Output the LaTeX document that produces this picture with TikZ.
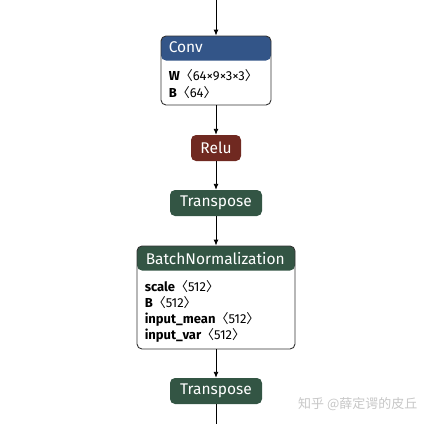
\documentclass[tikz,border=0pt]{standalone}
\usepackage{fontspec}
\setmainfont{Fira Sans}
\newfontfamily\cjkfont{Noto Sans CJK SC}
\usetikzlibrary{arrows.meta, positioning}

\definecolor{layerblue}{RGB}{51,85,136}
\definecolor{actred}{RGB}{112,41,33}
\definecolor{normgreen}{RGB}{51,85,68}

\newcommand\shp[1]{{\cjkfont 〈}#1{\cjkfont 〉}}

\begin{document}
\begin{tikzpicture}[
    x=1pt, y=-1pt,
    font=\fontsize{15.5}{17}\selectfont,
    op/.style={rounded corners=5pt, text=white, minimum height=26pt, inner sep=0pt},
    card/.style={draw=black!80, line width=0.9pt, rounded corners=5pt, fill=white, inner sep=0pt,
        path picture={\fill[#1] (path picture bounding box.north west) rectangle ([yshift=-24.5pt]path picture bounding box.north east);}},
    title/.style={anchor=west, text=white, inner sep=0pt},
    param/.style={anchor=west, inner sep=0pt, font=\fontsize{13}{15}\selectfont},
    link/.style={-{Latex[length=6pt,width=5pt]}, line width=0.9pt},
]
\useasboundingbox (0,0) rectangle (432,424);

% Conv layer with weights
\node[card=layerblue, minimum width=110pt, minimum height=69pt] (conv) at (216,70.5) {};
\node[title] (convtitle) at ([xshift=8pt,yshift=-12pt]conv.north west) {Conv};
\node[param] (convw) at ([xshift=8pt,yshift=-40pt]conv.north west) {\textbf{W}\shp{64×9×3×3}};
\node[param] (convb) at ([xshift=8pt,yshift=-57pt]conv.north west) {\textbf{B}\shp{64}};

% Activation and transposes
\node[op, fill=actred, minimum width=50pt] (relu) at (216,148) {Relu};
\node[op, fill=normgreen, minimum width=92pt] (trans1) at (216,203) {Transpose};

% BatchNormalization with parameters
\node[card=normgreen, minimum width=158pt, minimum height=103pt] (bn) at (216,297.5) {};
\node[title] (bntitle) at ([xshift=9pt,yshift=-12.5pt]bn.north west) {BatchNormalization};
\node[param] (bnscale) at ([xshift=8pt,yshift=-41pt]bn.north west) {\textbf{scale}\shp{512}};
\node[param] (bnb) at ([xshift=8pt,yshift=-57pt]bn.north west) {\textbf{B}\shp{512}};
\node[param] (bnmean) at ([xshift=8pt,yshift=-74pt]bn.north west) {\textbf{input\_mean}\shp{512}};
\node[param] (bnvar) at ([xshift=8pt,yshift=-90pt]bn.north west) {\textbf{input\_var}\shp{512}};

\node[op, fill=normgreen, minimum width=92pt] (trans2) at (216,391) {Transpose};

% loose ends
\coordinate (in) at (216,0);
\coordinate (out) at (216,424);

% links
\draw[link] (in) -- (conv);
\foreach \a/\b in {conv/relu, relu/trans1, trans1/bn, bn/trans2}
    \draw[link] (\a) -- (\b);
\draw[line width=0.9pt] (trans2) -- (out);

% watermark
\node[anchor=west, inner sep=0pt, text=black!22, font=\cjkfont\fontsize{13}{15}\selectfont] (mark) at (298,404) {知乎 @薛定谔的皮丘};
\end{tikzpicture}
\end{document}
